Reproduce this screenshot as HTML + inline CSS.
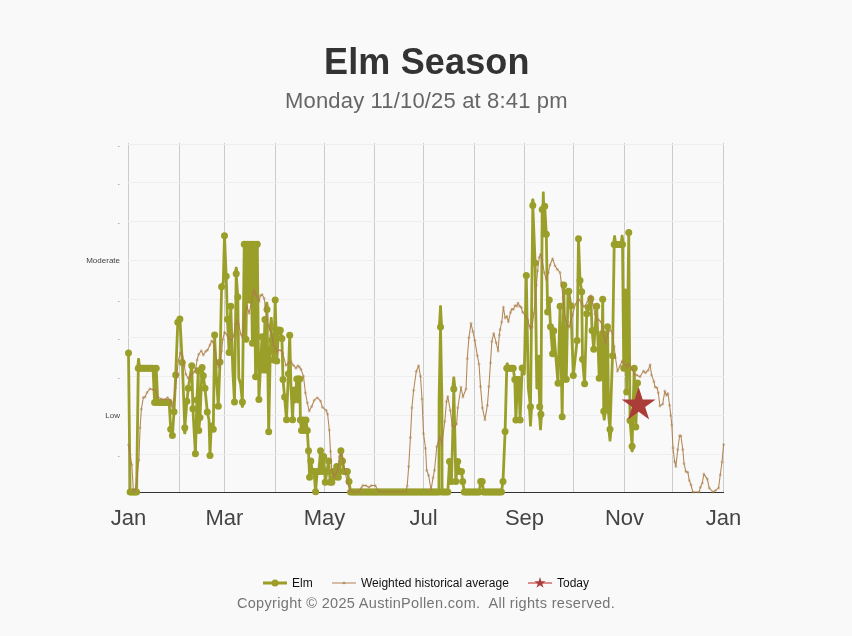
<!DOCTYPE html>
<html lang="en"><head><meta charset="utf-8"><title>Elm Season</title>
<style>
html,body{margin:0;padding:0;}
body{width:852px;height:636px;overflow:hidden;background:#f9f9f9;font-family:"Liberation Sans",sans-serif;position:relative;}
h1{position:absolute;left:0.8px;top:39.2px;width:852px;margin:0;text-align:center;font-size:36px;line-height:46px;font-weight:bold;color:#333;letter-spacing:0.15px;}
h2{position:absolute;left:0.4px;top:86.9px;width:852px;margin:0;text-align:center;font-size:22px;line-height:28px;font-weight:normal;color:#666;letter-spacing:0.16px;}
#chart{position:absolute;left:0;top:0;width:852px;height:636px;}
.xl{font-size:22px;fill:#444;text-anchor:middle;}
.yl{font-size:8px;fill:#444;text-anchor:end;}
.lg{font-size:12px;fill:#111;}
#foot{position:absolute;left:0;top:594.4px;width:852px;text-align:center;font-size:14.5px;line-height:18px;color:#757575;letter-spacing:0.33px;white-space:pre;}
</style></head><body>
<h1>Elm Season</h1>
<h2>Monday 11/10/25 at 8:41 pm</h2>
<svg id="chart" width="852" height="636" viewBox="0 0 852 636" font-family="Liberation Sans, sans-serif">

<g stroke="#cccccc" stroke-width="1" shape-rendering="crispEdges">
<line x1="128.5" x2="128.5" y1="143.0" y2="492.5"/>
<line x1="179.5" x2="179.5" y1="143.0" y2="492.5"/>
<line x1="224.5" x2="224.5" y1="143.0" y2="492.5"/>
<line x1="275.5" x2="275.5" y1="143.0" y2="492.5"/>
<line x1="324.5" x2="324.5" y1="143.0" y2="492.5"/>
<line x1="374.5" x2="374.5" y1="143.0" y2="492.5"/>
<line x1="423.5" x2="423.5" y1="143.0" y2="492.5"/>
<line x1="474.5" x2="474.5" y1="143.0" y2="492.5"/>
<line x1="524.5" x2="524.5" y1="143.0" y2="492.5"/>
<line x1="573.5" x2="573.5" y1="143.0" y2="492.5"/>
<line x1="624.5" x2="624.5" y1="143.0" y2="492.5"/>
<line x1="672.5" x2="672.5" y1="143.0" y2="492.5"/>
<line x1="723.5" x2="723.5" y1="143.0" y2="492.5"/>
</g>
<g stroke="#eeeeee" stroke-width="1" shape-rendering="crispEdges">
<line x1="128.0" x2="724.0" y1="144.5" y2="144.5"/>
<line x1="128.0" x2="724.0" y1="182.5" y2="182.5"/>
<line x1="128.0" x2="724.0" y1="221.5" y2="221.5"/>
<line x1="128.0" x2="724.0" y1="260.5" y2="260.5"/>
<line x1="128.0" x2="724.0" y1="299.5" y2="299.5"/>
<line x1="128.0" x2="724.0" y1="337.5" y2="337.5"/>
<line x1="128.0" x2="724.0" y1="376.5" y2="376.5"/>
<line x1="128.0" x2="724.0" y1="415.5" y2="415.5"/>
<line x1="128.0" x2="724.0" y1="454.5" y2="454.5"/>
</g>
<line x1="128.5" x2="723.5" y1="492.5" y2="492.5" stroke="#333" stroke-width="1" shape-rendering="crispEdges"/>
<text class="yl" x="120" y="146.5">.</text>
<text class="yl" x="120" y="184.5">.</text>
<text class="yl" x="120" y="223.5">.</text>
<text class="yl" x="120" y="262.5">Moderate</text>
<text class="yl" x="120" y="301.5">.</text>
<text class="yl" x="120" y="339.5">.</text>
<text class="yl" x="120" y="378.5">.</text>
<text class="yl" x="120" y="417.5">Low</text>
<text class="yl" x="120" y="456.5">.</text>
<text class="xl" x="128.5" y="525">Jan</text>
<text class="xl" x="224.5" y="525">Mar</text>
<text class="xl" x="324.5" y="525">May</text>
<text class="xl" x="423.5" y="525">Jul</text>
<text class="xl" x="524.5" y="525">Sep</text>
<text class="xl" x="624.5" y="525">Nov</text>
<text class="xl" x="723.5" y="525">Jan</text>
<polyline fill="none" stroke="#9a9f2a" stroke-width="2.8" stroke-linejoin="round" stroke-linecap="round" points="128.5,352.9 130.1,492 131.8,492 133.4,492 135,492 136.6,492 138.3,368.3 139.9,368.3 141.5,368.3 143.2,368.3 144.8,368.3 146.4,368.3 148.1,368.3 149.7,368.3 151.3,368.3 153,368.3 154.6,402.5 156.2,368.3 157.8,402.5 159.5,402.5 161.1,402.5 162.7,402.5 164.4,402.5 166,402.5 167.6,402.5 169.2,402.5 170.7,429.2 172.4,435.4 174,411.8 175.7,375 177.8,322.2 179.9,318.9 182.3,362.5 184.8,427.8 186.9,401.3 188.3,388.3 191.8,365.8 192.9,408.8 195.4,453.75 196.9,400 198.3,370.8 198.75,430.4 200,417.5 202.1,367.5 203.3,375.8 205,388.3 207.3,412 209,420 210,455.4 211.3,424 213.3,429.2 214.6,335 216.5,380 218.3,406.25 220,362.1 221.6,286.7 223.3,282 224.5,235.8 226.2,276.25 227.4,319.2 229.1,352.5 230.75,306.25 232.8,370 234.5,402.1 236.2,273.75 237.8,297 238.8,378 240.6,384 242.4,402.1 244.25,244.3 245.9,339.2 247.5,244.3 249.1,300 250.8,244.3 252.4,343.3 254,244.3 255.6,376.7 257.25,244.3 258.9,399.6 262,336.7 263.5,370 264.9,319.6 266,370 267,309.5 268.7,431.7 270.3,350 271.2,330 272,340 273.6,360 275.2,300.1 276.8,361 278.6,330 280.3,330.3 281.9,338.4 283,379.5 284.6,397.1 286.5,419.7 288.4,373.8 289.7,335.3 291,388 292.6,419.7 293.6,388 295,402 296.8,378.9 297.6,402 298.4,378.9 299.8,378.9 300.4,420 301.5,430.4 303,420 304.4,430.4 306,420 307.3,430.4 308.5,450.8 309.6,477.2 310.8,460.9 312.4,471.6 314,471.6 315.6,491.7 317.2,471.6 318.8,471.6 320.5,450.8 322.1,471.6 323.7,456.5 325.3,482.2 326.9,471.6 328.6,460.9 330.2,482.2 331.8,482.2 333.4,471.6 335,477 336.7,466.5 338.3,477.2 339.9,471.6 340.9,450.8 342.5,460.9 344.1,471.6 345.8,471.6 347.4,471.6 349,481.6 350.6,492 352.24,492 353.87,492 355.51,492 357.14,492 358.78,492 360.41,492 362.05,492 363.68,492 365.32,492 366.95,492 368.59,492 370.22,492 371.86,492 373.49,492 375.13,492 376.76,492 378.4,492 380.03,492 381.67,492 383.3,492 384.94,492 386.57,492 388.21,492 389.84,492 391.48,492 393.11,492 394.75,492 396.39,492 398.02,492 399.66,492 401.29,492 402.93,492 404.56,492 406.2,492 407.83,492 409.47,492 411.1,492 412.74,492 414.37,492 416.01,492 417.64,492 419.28,492 420.91,492 422.55,492 424.18,492 425.82,492 427.45,492 429.09,492 430.72,492 432.36,492 433.99,492 435.63,492 437.26,492 438.9,492 439.1,400 440.5,327.1 441.9,400 442.1,492 444,492 445.9,492 447.8,492 449.5,461.5 451.4,481.6 452.6,440 453.8,388.9 455,440 455.8,481.6 457.7,461.5 459.5,471.6 461.5,471.6 462.7,481.6 464.3,492 465.96,492 467.61,492 469.27,492 470.92,492 472.58,492 474.23,492 475.89,492 477.54,492 479.2,492 480.7,481.6 482.2,481.6 483.6,492 485.22,492 486.84,492 488.45,492 490.07,492 491.69,492 493.31,492 494.93,492 496.55,492 498.16,492 499.78,492 501.4,492 503,481.6 505.1,431.5 506.75,368.3 508.4,368.3 510,368.3 511.6,368.3 513.2,368.3 514.8,379.6 515.9,420 517.5,379.6 518.8,379.6 520.1,420 522.2,367.9 524.3,374 526.3,275.4 528.3,388 530.5,406.8 532.8,205.4 535.1,262.9 536.8,388 538.3,358.3 539.7,406.8 540.9,414.2 542.2,209.6 543.4,236 544.7,206.25 546.3,234.2 547.6,312.1 549.25,300 550.5,326.7 552.6,353.75 553.8,330.8 558,383.3 560.1,306.25 562.2,416.7 563.8,285 565.4,379.2 566.3,379.2 568,291.7 568.75,291.25 570.8,305.8 573.3,375.6 577.1,340.4 578.5,238.75 580,280.4 581.7,291.7 582.5,359.2 584.6,383.75 586.7,313.75 588.3,307.5 590.8,298.75 592.1,330.4 593.75,349.2 596.7,306.25 599.2,378.3 600.6,332 601.6,376 602.7,299.2 603.75,411.25 604.9,332 606,412 607.5,326.7 608.6,414 610,429.2 612.5,355.8 614.2,244.6 615.8,244.6 617.5,244.6 619.1,244.6 620.7,244.6 622.5,244.6 623.75,368.3 625.3,290 626.7,392.1 628.75,232.5 630,420.4 632.1,446.25 634.2,368.3 635.8,427.1 637.5,382.9"/>
<g fill="#9a9f2a">
<rect x="243.4" y="245" width="14.8" height="56"/>
<polygon stroke="#9a9f2a" stroke-width="1.2" stroke-linejoin="round" points="136.7,368.3 137.85,358.7 139.35,358.7 140.5,368.3"/>
<polygon stroke="#9a9f2a" stroke-width="1.2" stroke-linejoin="round" points="182.9,427.8 184.05,433.7 185.55,433.7 186.7,427.8"/>
<polygon stroke="#9a9f2a" stroke-width="1.2" stroke-linejoin="round" points="234.3,273.75 235.45,267.3 236.95,267.3 238.1,273.75"/>
<polygon stroke="#9a9f2a" stroke-width="1.2" stroke-linejoin="round" points="240.5,402.1 241.65,407.2 243.15,407.2 244.3,402.1"/>
<polygon stroke="#9a9f2a" stroke-width="1.2" stroke-linejoin="round" points="264.9,309.5 266.05,302.3 267.55,302.3 268.7,309.5"/>
<polygon stroke="#9a9f2a" stroke-width="1.2" stroke-linejoin="round" points="269.3,330 270.45,317.5 271.95,317.5 273.1,330"/>
<polygon stroke="#9a9f2a" stroke-width="1.2" stroke-linejoin="round" points="438.6,327.1 439.75,305.8 441.25,305.8 442.4,327.1"/>
<polygon stroke="#9a9f2a" stroke-width="1.2" stroke-linejoin="round" points="451.9,388.9 453.05,377.1 454.55,377.1 455.7,388.9"/>
<polygon stroke="#9a9f2a" stroke-width="1.2" stroke-linejoin="round" points="505.3,368.3 506.45,363.1 507.95,363.1 509.1,368.3"/>
<polygon stroke="#9a9f2a" stroke-width="1.2" stroke-linejoin="round" points="528.6,406.8 529.75,425.9 531.25,425.9 532.4,406.8"/>
<polygon stroke="#9a9f2a" stroke-width="1.2" stroke-linejoin="round" points="530.9,205.4 532.05,199.1 533.55,199.1 534.7,205.4"/>
<polygon stroke="#9a9f2a" stroke-width="1.2" stroke-linejoin="round" points="538.6,414.2 539.75,429.6 541.25,429.6 542.4,414.2"/>
<polygon stroke="#9a9f2a" stroke-width="1.2" stroke-linejoin="round" points="541.4,236 542.55,192 544.05,192 545.2,236"/>
<polygon stroke="#9a9f2a" stroke-width="1.2" stroke-linejoin="round" points="602.3,411.25 603.45,420 604.95,420 606.1,411.25"/>
<polygon stroke="#9a9f2a" stroke-width="1.2" stroke-linejoin="round" points="608.1,429.2 609.25,440.9 610.75,440.9 611.9,429.2"/>
<polygon stroke="#9a9f2a" stroke-width="1.2" stroke-linejoin="round" points="612.7,244.6 613.85,235.8 615.35,235.8 616.5,244.6"/>
<polygon stroke="#9a9f2a" stroke-width="1.2" stroke-linejoin="round" points="620.2,244.6 621.35,235.4 622.85,235.4 624,244.6"/>
<polygon stroke="#9a9f2a" stroke-width="1.2" stroke-linejoin="round" points="630.2,446.25 631.35,451.7 632.85,451.7 634,446.25"/>
<circle cx="128.5" cy="352.9" r="3.5"/>
<circle cx="130.1" cy="492" r="3.5"/>
<circle cx="131.8" cy="492" r="3.5"/>
<circle cx="133.4" cy="492" r="3.5"/>
<circle cx="135" cy="492" r="3.5"/>
<circle cx="136.6" cy="492" r="3.5"/>
<circle cx="138.3" cy="368.3" r="3.5"/>
<circle cx="139.9" cy="368.3" r="3.5"/>
<circle cx="141.5" cy="368.3" r="3.5"/>
<circle cx="143.2" cy="368.3" r="3.5"/>
<circle cx="144.8" cy="368.3" r="3.5"/>
<circle cx="146.4" cy="368.3" r="3.5"/>
<circle cx="148.1" cy="368.3" r="3.5"/>
<circle cx="149.7" cy="368.3" r="3.5"/>
<circle cx="151.3" cy="368.3" r="3.5"/>
<circle cx="153" cy="368.3" r="3.5"/>
<circle cx="154.6" cy="402.5" r="3.5"/>
<circle cx="156.2" cy="368.3" r="3.5"/>
<circle cx="157.8" cy="402.5" r="3.5"/>
<circle cx="159.5" cy="402.5" r="3.5"/>
<circle cx="161.1" cy="402.5" r="3.5"/>
<circle cx="162.7" cy="402.5" r="3.5"/>
<circle cx="164.4" cy="402.5" r="3.5"/>
<circle cx="166" cy="402.5" r="3.5"/>
<circle cx="167.6" cy="402.5" r="3.5"/>
<circle cx="169.2" cy="402.5" r="3.5"/>
<circle cx="170.7" cy="429.2" r="3.5"/>
<circle cx="172.4" cy="435.4" r="3.5"/>
<circle cx="174" cy="411.8" r="3.5"/>
<circle cx="175.7" cy="375" r="3.5"/>
<circle cx="177.8" cy="322.2" r="3.5"/>
<circle cx="179.9" cy="318.9" r="3.5"/>
<circle cx="182.3" cy="362.5" r="3.5"/>
<circle cx="184.8" cy="427.8" r="3.5"/>
<circle cx="186.9" cy="401.3" r="3.5"/>
<circle cx="188.3" cy="388.3" r="3.5"/>
<circle cx="191.8" cy="365.8" r="3.5"/>
<circle cx="192.9" cy="408.8" r="3.5"/>
<circle cx="195.4" cy="453.75" r="3.5"/>
<circle cx="196.9" cy="400" r="3.5"/>
<circle cx="198.3" cy="370.8" r="3.5"/>
<circle cx="198.75" cy="430.4" r="3.5"/>
<circle cx="200" cy="417.5" r="3.5"/>
<circle cx="202.1" cy="367.5" r="3.5"/>
<circle cx="203.3" cy="375.8" r="3.5"/>
<circle cx="205" cy="388.3" r="3.5"/>
<circle cx="207.3" cy="412" r="3.5"/>
<circle cx="210" cy="455.4" r="3.5"/>
<circle cx="213.3" cy="429.2" r="3.5"/>
<circle cx="214.6" cy="335" r="3.5"/>
<circle cx="216.5" cy="380" r="3.5"/>
<circle cx="218.3" cy="406.25" r="3.5"/>
<circle cx="220" cy="362.1" r="3.5"/>
<circle cx="221.6" cy="286.7" r="3.5"/>
<circle cx="224.5" cy="235.8" r="3.5"/>
<circle cx="226.2" cy="276.25" r="3.5"/>
<circle cx="227.4" cy="319.2" r="3.5"/>
<circle cx="229.1" cy="352.5" r="3.5"/>
<circle cx="230.75" cy="306.25" r="3.5"/>
<circle cx="234.5" cy="402.1" r="3.5"/>
<circle cx="236.2" cy="273.75" r="3.5"/>
<circle cx="237.8" cy="297" r="3.5"/>
<circle cx="242.4" cy="402.1" r="3.5"/>
<circle cx="244.25" cy="244.3" r="3.5"/>
<circle cx="245.9" cy="339.2" r="3.5"/>
<circle cx="247.5" cy="244.3" r="3.5"/>
<circle cx="249.1" cy="300" r="3.5"/>
<circle cx="250.8" cy="244.3" r="3.5"/>
<circle cx="252.4" cy="343.3" r="3.5"/>
<circle cx="254" cy="244.3" r="3.5"/>
<circle cx="255.6" cy="376.7" r="3.5"/>
<circle cx="257.25" cy="244.3" r="3.5"/>
<circle cx="258.9" cy="399.6" r="3.5"/>
<circle cx="262" cy="336.7" r="3.5"/>
<circle cx="263.5" cy="370" r="3.5"/>
<circle cx="264.9" cy="319.6" r="3.5"/>
<circle cx="266" cy="370" r="3.5"/>
<circle cx="267" cy="309.5" r="3.5"/>
<circle cx="268.7" cy="431.7" r="3.5"/>
<circle cx="270.3" cy="350" r="3.5"/>
<circle cx="272" cy="340" r="3.5"/>
<circle cx="273.6" cy="360" r="3.5"/>
<circle cx="275.2" cy="300.1" r="3.5"/>
<circle cx="276.8" cy="361" r="3.5"/>
<circle cx="278.6" cy="330" r="3.5"/>
<circle cx="280.3" cy="330.3" r="3.5"/>
<circle cx="281.9" cy="338.4" r="3.5"/>
<circle cx="283" cy="379.5" r="3.5"/>
<circle cx="284.6" cy="397.1" r="3.5"/>
<circle cx="286.5" cy="419.7" r="3.5"/>
<circle cx="288.4" cy="373.8" r="3.5"/>
<circle cx="289.7" cy="335.3" r="3.5"/>
<circle cx="292.6" cy="419.7" r="3.5"/>
<circle cx="296.8" cy="378.9" r="3.5"/>
<circle cx="298.4" cy="378.9" r="3.5"/>
<circle cx="299.8" cy="378.9" r="3.5"/>
<circle cx="300.4" cy="420" r="3.5"/>
<circle cx="301.5" cy="430.4" r="3.5"/>
<circle cx="303" cy="420" r="3.5"/>
<circle cx="304.4" cy="430.4" r="3.5"/>
<circle cx="306" cy="420" r="3.5"/>
<circle cx="307.3" cy="430.4" r="3.5"/>
<circle cx="308.5" cy="450.8" r="3.5"/>
<circle cx="309.6" cy="477.2" r="3.5"/>
<circle cx="310.8" cy="460.9" r="3.5"/>
<circle cx="312.4" cy="471.6" r="3.5"/>
<circle cx="314" cy="471.6" r="3.5"/>
<circle cx="315.6" cy="491.7" r="3.5"/>
<circle cx="317.2" cy="471.6" r="3.5"/>
<circle cx="318.8" cy="471.6" r="3.5"/>
<circle cx="320.5" cy="450.8" r="3.5"/>
<circle cx="322.1" cy="471.6" r="3.5"/>
<circle cx="323.7" cy="456.5" r="3.5"/>
<circle cx="325.3" cy="482.2" r="3.5"/>
<circle cx="326.9" cy="471.6" r="3.5"/>
<circle cx="328.6" cy="460.9" r="3.5"/>
<circle cx="330.2" cy="482.2" r="3.5"/>
<circle cx="331.8" cy="482.2" r="3.5"/>
<circle cx="333.4" cy="471.6" r="3.5"/>
<circle cx="335" cy="477" r="3.5"/>
<circle cx="336.7" cy="466.5" r="3.5"/>
<circle cx="338.3" cy="477.2" r="3.5"/>
<circle cx="339.9" cy="471.6" r="3.5"/>
<circle cx="340.9" cy="450.8" r="3.5"/>
<circle cx="342.5" cy="460.9" r="3.5"/>
<circle cx="344.1" cy="471.6" r="3.5"/>
<circle cx="345.8" cy="471.6" r="3.5"/>
<circle cx="347.4" cy="471.6" r="3.5"/>
<circle cx="349" cy="481.6" r="3.5"/>
<circle cx="350.6" cy="492" r="3.5"/>
<circle cx="352.24" cy="492" r="3.5"/>
<circle cx="353.87" cy="492" r="3.5"/>
<circle cx="355.51" cy="492" r="3.5"/>
<circle cx="357.14" cy="492" r="3.5"/>
<circle cx="358.78" cy="492" r="3.5"/>
<circle cx="360.41" cy="492" r="3.5"/>
<circle cx="362.05" cy="492" r="3.5"/>
<circle cx="363.68" cy="492" r="3.5"/>
<circle cx="365.32" cy="492" r="3.5"/>
<circle cx="366.95" cy="492" r="3.5"/>
<circle cx="368.59" cy="492" r="3.5"/>
<circle cx="370.22" cy="492" r="3.5"/>
<circle cx="371.86" cy="492" r="3.5"/>
<circle cx="373.49" cy="492" r="3.5"/>
<circle cx="375.13" cy="492" r="3.5"/>
<circle cx="376.76" cy="492" r="3.5"/>
<circle cx="378.4" cy="492" r="3.5"/>
<circle cx="380.03" cy="492" r="3.5"/>
<circle cx="381.67" cy="492" r="3.5"/>
<circle cx="383.3" cy="492" r="3.5"/>
<circle cx="384.94" cy="492" r="3.5"/>
<circle cx="386.57" cy="492" r="3.5"/>
<circle cx="388.21" cy="492" r="3.5"/>
<circle cx="389.84" cy="492" r="3.5"/>
<circle cx="391.48" cy="492" r="3.5"/>
<circle cx="393.11" cy="492" r="3.5"/>
<circle cx="394.75" cy="492" r="3.5"/>
<circle cx="396.39" cy="492" r="3.5"/>
<circle cx="398.02" cy="492" r="3.5"/>
<circle cx="399.66" cy="492" r="3.5"/>
<circle cx="401.29" cy="492" r="3.5"/>
<circle cx="402.93" cy="492" r="3.5"/>
<circle cx="404.56" cy="492" r="3.5"/>
<circle cx="406.2" cy="492" r="3.5"/>
<circle cx="407.83" cy="492" r="3.5"/>
<circle cx="409.47" cy="492" r="3.5"/>
<circle cx="411.1" cy="492" r="3.5"/>
<circle cx="412.74" cy="492" r="3.5"/>
<circle cx="414.37" cy="492" r="3.5"/>
<circle cx="416.01" cy="492" r="3.5"/>
<circle cx="417.64" cy="492" r="3.5"/>
<circle cx="419.28" cy="492" r="3.5"/>
<circle cx="420.91" cy="492" r="3.5"/>
<circle cx="422.55" cy="492" r="3.5"/>
<circle cx="424.18" cy="492" r="3.5"/>
<circle cx="425.82" cy="492" r="3.5"/>
<circle cx="427.45" cy="492" r="3.5"/>
<circle cx="429.09" cy="492" r="3.5"/>
<circle cx="430.72" cy="492" r="3.5"/>
<circle cx="432.36" cy="492" r="3.5"/>
<circle cx="433.99" cy="492" r="3.5"/>
<circle cx="435.63" cy="492" r="3.5"/>
<circle cx="437.26" cy="492" r="3.5"/>
<circle cx="438.9" cy="492" r="3.5"/>
<circle cx="440.5" cy="327.1" r="3.5"/>
<circle cx="442.1" cy="492" r="3.5"/>
<circle cx="444" cy="492" r="3.5"/>
<circle cx="445.9" cy="492" r="3.5"/>
<circle cx="447.8" cy="492" r="3.5"/>
<circle cx="449.5" cy="461.5" r="3.5"/>
<circle cx="451.4" cy="481.6" r="3.5"/>
<circle cx="453.8" cy="388.9" r="3.5"/>
<circle cx="455.8" cy="481.6" r="3.5"/>
<circle cx="457.7" cy="461.5" r="3.5"/>
<circle cx="459.5" cy="471.6" r="3.5"/>
<circle cx="461.5" cy="471.6" r="3.5"/>
<circle cx="462.7" cy="481.6" r="3.5"/>
<circle cx="464.3" cy="492" r="3.5"/>
<circle cx="465.96" cy="492" r="3.5"/>
<circle cx="467.61" cy="492" r="3.5"/>
<circle cx="469.27" cy="492" r="3.5"/>
<circle cx="470.92" cy="492" r="3.5"/>
<circle cx="472.58" cy="492" r="3.5"/>
<circle cx="474.23" cy="492" r="3.5"/>
<circle cx="475.89" cy="492" r="3.5"/>
<circle cx="477.54" cy="492" r="3.5"/>
<circle cx="479.2" cy="492" r="3.5"/>
<circle cx="480.7" cy="481.6" r="3.5"/>
<circle cx="482.2" cy="481.6" r="3.5"/>
<circle cx="483.6" cy="492" r="3.5"/>
<circle cx="485.22" cy="492" r="3.5"/>
<circle cx="486.84" cy="492" r="3.5"/>
<circle cx="488.45" cy="492" r="3.5"/>
<circle cx="490.07" cy="492" r="3.5"/>
<circle cx="491.69" cy="492" r="3.5"/>
<circle cx="493.31" cy="492" r="3.5"/>
<circle cx="494.93" cy="492" r="3.5"/>
<circle cx="496.55" cy="492" r="3.5"/>
<circle cx="498.16" cy="492" r="3.5"/>
<circle cx="499.78" cy="492" r="3.5"/>
<circle cx="501.4" cy="492" r="3.5"/>
<circle cx="503" cy="481.6" r="3.5"/>
<circle cx="505.1" cy="431.5" r="3.5"/>
<circle cx="506.75" cy="368.3" r="3.5"/>
<circle cx="508.4" cy="368.3" r="3.5"/>
<circle cx="510" cy="368.3" r="3.5"/>
<circle cx="511.6" cy="368.3" r="3.5"/>
<circle cx="513.2" cy="368.3" r="3.5"/>
<circle cx="514.8" cy="379.6" r="3.5"/>
<circle cx="515.9" cy="420" r="3.5"/>
<circle cx="517.5" cy="379.6" r="3.5"/>
<circle cx="518.8" cy="379.6" r="3.5"/>
<circle cx="520.1" cy="420" r="3.5"/>
<circle cx="522.2" cy="367.9" r="3.5"/>
<circle cx="526.3" cy="275.4" r="3.5"/>
<circle cx="530.5" cy="406.8" r="3.5"/>
<circle cx="532.8" cy="205.4" r="3.5"/>
<circle cx="535.1" cy="262.9" r="3.5"/>
<circle cx="538.3" cy="358.3" r="3.5"/>
<circle cx="539.7" cy="406.8" r="3.5"/>
<circle cx="540.9" cy="414.2" r="3.5"/>
<circle cx="542.2" cy="209.6" r="3.5"/>
<circle cx="544.7" cy="206.25" r="3.5"/>
<circle cx="546.3" cy="234.2" r="3.5"/>
<circle cx="547.6" cy="312.1" r="3.5"/>
<circle cx="549.25" cy="300" r="3.5"/>
<circle cx="550.5" cy="326.7" r="3.5"/>
<circle cx="552.6" cy="353.75" r="3.5"/>
<circle cx="553.8" cy="330.8" r="3.5"/>
<circle cx="558" cy="383.3" r="3.5"/>
<circle cx="560.1" cy="306.25" r="3.5"/>
<circle cx="562.2" cy="416.7" r="3.5"/>
<circle cx="563.8" cy="285" r="3.5"/>
<circle cx="565.4" cy="379.2" r="3.5"/>
<circle cx="566.3" cy="379.2" r="3.5"/>
<circle cx="568" cy="291.7" r="3.5"/>
<circle cx="568.75" cy="291.25" r="3.5"/>
<circle cx="570.8" cy="305.8" r="3.5"/>
<circle cx="573.3" cy="375.6" r="3.5"/>
<circle cx="577.1" cy="340.4" r="3.5"/>
<circle cx="578.5" cy="238.75" r="3.5"/>
<circle cx="580" cy="280.4" r="3.5"/>
<circle cx="581.7" cy="291.7" r="3.5"/>
<circle cx="582.5" cy="359.2" r="3.5"/>
<circle cx="584.6" cy="383.75" r="3.5"/>
<circle cx="586.7" cy="313.75" r="3.5"/>
<circle cx="588.3" cy="307.5" r="3.5"/>
<circle cx="590.8" cy="298.75" r="3.5"/>
<circle cx="592.1" cy="330.4" r="3.5"/>
<circle cx="593.75" cy="349.2" r="3.5"/>
<circle cx="596.7" cy="306.25" r="3.5"/>
<circle cx="599.2" cy="378.3" r="3.5"/>
<circle cx="602.7" cy="299.2" r="3.5"/>
<circle cx="603.75" cy="411.25" r="3.5"/>
<circle cx="607.5" cy="326.7" r="3.5"/>
<circle cx="610" cy="429.2" r="3.5"/>
<circle cx="612.5" cy="355.8" r="3.5"/>
<circle cx="614.2" cy="244.6" r="3.5"/>
<circle cx="615.8" cy="244.6" r="3.5"/>
<circle cx="617.5" cy="244.6" r="3.5"/>
<circle cx="619.1" cy="244.6" r="3.5"/>
<circle cx="620.7" cy="244.6" r="3.5"/>
<circle cx="622.5" cy="244.6" r="3.5"/>
<circle cx="623.75" cy="368.3" r="3.5"/>
<circle cx="626.7" cy="392.1" r="3.5"/>
<circle cx="628.75" cy="232.5" r="3.5"/>
<circle cx="630" cy="420.4" r="3.5"/>
<circle cx="632.1" cy="446.25" r="3.5"/>
<circle cx="634.2" cy="368.3" r="3.5"/>
<circle cx="635.8" cy="427.1" r="3.5"/>
<circle cx="637.5" cy="382.9" r="3.5"/>
</g>
<polyline fill="none" stroke="#aa7a42" stroke-width="1.05" stroke-opacity="0.9" stroke-linejoin="round" stroke-linecap="round" points="128.5,444.8 130.1,455 131.8,464.7 133.4,490.5 135,491 136.7,480 138.9,460 140.1,427.8 141.4,408.9 143.3,397.6 145,397 147,392.6 149.9,388.8 152.9,389.4 155.8,390.7 157.7,397 161.5,398.9 164.6,399.5 167.5,397.6 170.3,400.1 172.2,407.7 174.1,398.9 175.5,388 177.1,373.3 178.3,360.8 180.4,352.5 182.5,356.7 184.2,365.8 185.8,374.2 188.3,378.3 190.8,375 194.2,372.1 195.8,368.3 197.1,360 198.75,354.2 201.25,350.8 203.3,355 205.8,351.25 207.5,350 210,345 211.7,340.8 213.3,342.5 215.4,352.5 217.1,363.3 218.75,367.3 220.5,360 221.7,350.8 222.8,339.2 224.5,332.2 227.2,335 229.1,338.3 231.4,340.4 233.7,335.8 235.3,324.2 237,319.8 238.6,324 240.75,334.2 242.4,337.1 243.7,328.3 244.5,315.8 247,305.8 249.1,313.3 251.2,303.3 252.8,294.2 254.1,289.6 255.3,294.2 257.4,296.7 259.1,301.25 260.3,295.8 262,294.5 264.1,298.3 265.3,305.8 266.6,317 268.5,326 270.3,330.8 272,335 273.25,345 274.9,346.7 276.6,352.5 278.5,350 281.2,350.5 282.8,353.3 285.9,365.3 288.5,363 291,361.5 293.4,365.2 296,368.2 297.8,365.7 299.5,367 301,369.4 303.5,376.3 305.4,392.7 307.3,402.75 309.2,410.9 311.7,406.5 314.2,400.2 317.3,397.7 320.5,400.9 322.4,407.2 326.1,410.3 327.6,414 329.3,430 330.5,451.4 331.8,470.3 334.3,477.2 337.4,470.3 339.3,456.5 341.2,453.3 343.1,460.9 345,471.6 347.5,482.9 350,490.4 352.5,492 358.8,492 361.3,487.9 362.8,485.4 365.7,485.4 368.9,487.3 371.4,485.4 375.2,485.4 379,491.7 406,491.7 407.2,486 408.7,466.5 410.4,437.6 411.9,407.8 413.6,390.2 416.3,371.3 418.6,365.7 420.5,376.3 422,399 423.5,433.4 425.5,448.3 426.7,470.3 428.6,475.3 431.1,489.8 433,477.8 434.5,470.3 436.8,446.4 439.9,436.5 441.8,445 444.8,421.3 446.5,401.5 447.8,396.5 450.3,410.3 452.2,425.4 454,427.9 456.6,424 457.8,407.8 461,387 462.9,397 466,389 467.3,358.5 468.9,337.8 471,323.3 472.9,331.5 474.8,340.3 477.3,355.4 479,364 480.5,386.4 482.4,407.8 484.9,419.7 487.4,405.3 488.9,386.4 490.5,362.7 491.8,341.6 493.7,333.4 496.2,342.8 498.1,351 499.3,335 500.1,329.5 501.75,322 503.4,307 505.1,318 506.75,316.25 508.4,321.7 510.5,312.5 511.75,309.2 513.4,309.2 515.1,305.4 516.75,306.25 518,302.9 519.8,306.25 521.3,307.5 522.6,312.1 525.5,315.8 528,320 529.25,325.8 530.5,328.75 532.2,326.7 533.8,313.3 535.5,297.5 536.4,285 537.6,270.8 539.25,257.5 540.5,254.2 542.2,260 544.25,272.5 546.3,279.6 548.4,272.5 550,265 552.6,258.75 555,265.8 557.2,269.2 560,272.5 561.3,282.5 563,297.5 564.7,316 566.7,324.5 569.2,327 570.5,322 572.5,315 575.4,304.2 578.75,299.2 581.7,303.3 584.2,306.7 587.5,301.7 590.8,295.8 592.9,304.2 595,314.2 596.7,320.4 598.3,319.6 600.8,321.7 602.5,327.5 603.3,333.3 605.4,343.3 607.9,333.3 610.4,330 612.5,333.3 614.2,346.7 615.4,357.5 617.5,371.2 620,366 622.1,361 624.2,364.2 626.7,366.7 628.75,363.6 631.25,367.9 633.3,370 634.2,374.6 636.7,375 640,376.8 643.5,371 645.5,372.8 648.2,370.2 650.1,364.7 651.6,375.1 653.9,381.4 655.1,387.1 657,387.7 658.3,392.75 659.9,406 662.7,404.1 664.8,391 666.4,395.3 667.9,393.4 669.6,405.3 670.8,415.4 671.8,425 673,447.7 674.6,461.5 675.9,466.5 677.75,449.5 679.6,435.7 680.9,435.7 682.8,449.5 684,463.4 685.9,471.6 687.8,472.2 689.3,480.4 691,484.75 692.8,492 699.1,492 700.4,487.3 702.3,482.9 703.9,474.1 707.3,479.1 709.2,487.9 713,492 715.5,490.4 718.6,487.9 720.25,474.7 722,462.1 723.6,444.5"/>
<g fill="#b08450" fill-opacity="0.45">
<circle cx="128.5" cy="444.8" r="1.5"/>
<circle cx="130.1" cy="455" r="1.5"/>
<circle cx="131.8" cy="464.7" r="1.5"/>
<circle cx="133.4" cy="490.5" r="1.5"/>
<circle cx="135" cy="491" r="1.5"/>
<circle cx="136.7" cy="480" r="1.5"/>
<circle cx="138.9" cy="460" r="1.5"/>
<circle cx="140.1" cy="427.8" r="1.5"/>
<circle cx="141.4" cy="408.9" r="1.5"/>
<circle cx="143.3" cy="397.6" r="1.5"/>
<circle cx="145" cy="397" r="1.5"/>
<circle cx="147" cy="392.6" r="1.5"/>
<circle cx="149.9" cy="388.8" r="1.5"/>
<circle cx="152.9" cy="389.4" r="1.5"/>
<circle cx="155.8" cy="390.7" r="1.5"/>
<circle cx="157.7" cy="397" r="1.5"/>
<circle cx="161.5" cy="398.9" r="1.5"/>
<circle cx="164.6" cy="399.5" r="1.5"/>
<circle cx="167.5" cy="397.6" r="1.5"/>
<circle cx="170.3" cy="400.1" r="1.5"/>
<circle cx="172.2" cy="407.7" r="1.5"/>
<circle cx="174.1" cy="398.9" r="1.5"/>
<circle cx="175.5" cy="388" r="1.5"/>
<circle cx="177.1" cy="373.3" r="1.5"/>
<circle cx="178.3" cy="360.8" r="1.5"/>
<circle cx="180.4" cy="352.5" r="1.5"/>
<circle cx="182.5" cy="356.7" r="1.5"/>
<circle cx="184.2" cy="365.8" r="1.5"/>
<circle cx="185.8" cy="374.2" r="1.5"/>
<circle cx="188.3" cy="378.3" r="1.5"/>
<circle cx="190.8" cy="375" r="1.5"/>
<circle cx="194.2" cy="372.1" r="1.5"/>
<circle cx="195.8" cy="368.3" r="1.5"/>
<circle cx="197.1" cy="360" r="1.5"/>
<circle cx="198.75" cy="354.2" r="1.5"/>
<circle cx="201.25" cy="350.8" r="1.5"/>
<circle cx="203.3" cy="355" r="1.5"/>
<circle cx="205.8" cy="351.25" r="1.5"/>
<circle cx="207.5" cy="350" r="1.5"/>
<circle cx="210" cy="345" r="1.5"/>
<circle cx="211.7" cy="340.8" r="1.5"/>
<circle cx="213.3" cy="342.5" r="1.5"/>
<circle cx="215.4" cy="352.5" r="1.5"/>
<circle cx="217.1" cy="363.3" r="1.5"/>
<circle cx="218.75" cy="367.3" r="1.5"/>
<circle cx="220.5" cy="360" r="1.5"/>
<circle cx="221.7" cy="350.8" r="1.5"/>
<circle cx="222.8" cy="339.2" r="1.5"/>
<circle cx="224.5" cy="332.2" r="1.5"/>
<circle cx="227.2" cy="335" r="1.5"/>
<circle cx="229.1" cy="338.3" r="1.5"/>
<circle cx="231.4" cy="340.4" r="1.5"/>
<circle cx="233.7" cy="335.8" r="1.5"/>
<circle cx="235.3" cy="324.2" r="1.5"/>
<circle cx="237" cy="319.8" r="1.5"/>
<circle cx="238.6" cy="324" r="1.5"/>
<circle cx="240.75" cy="334.2" r="1.5"/>
<circle cx="242.4" cy="337.1" r="1.5"/>
<circle cx="243.7" cy="328.3" r="1.5"/>
<circle cx="244.5" cy="315.8" r="1.5"/>
<circle cx="247" cy="305.8" r="1.5"/>
<circle cx="249.1" cy="313.3" r="1.5"/>
<circle cx="251.2" cy="303.3" r="1.5"/>
<circle cx="252.8" cy="294.2" r="1.5"/>
<circle cx="254.1" cy="289.6" r="1.5"/>
<circle cx="255.3" cy="294.2" r="1.5"/>
<circle cx="257.4" cy="296.7" r="1.5"/>
<circle cx="259.1" cy="301.25" r="1.5"/>
<circle cx="260.3" cy="295.8" r="1.5"/>
<circle cx="262" cy="294.5" r="1.5"/>
<circle cx="264.1" cy="298.3" r="1.5"/>
<circle cx="265.3" cy="305.8" r="1.5"/>
<circle cx="266.6" cy="317" r="1.5"/>
<circle cx="268.5" cy="326" r="1.5"/>
<circle cx="270.3" cy="330.8" r="1.5"/>
<circle cx="272" cy="335" r="1.5"/>
<circle cx="273.25" cy="345" r="1.5"/>
<circle cx="274.9" cy="346.7" r="1.5"/>
<circle cx="276.6" cy="352.5" r="1.5"/>
<circle cx="278.5" cy="350" r="1.5"/>
<circle cx="281.2" cy="350.5" r="1.5"/>
<circle cx="282.8" cy="353.3" r="1.5"/>
<circle cx="285.9" cy="365.3" r="1.5"/>
<circle cx="288.5" cy="363" r="1.5"/>
<circle cx="291" cy="361.5" r="1.5"/>
<circle cx="293.4" cy="365.2" r="1.5"/>
<circle cx="296" cy="368.2" r="1.5"/>
<circle cx="297.8" cy="365.7" r="1.5"/>
<circle cx="299.5" cy="367" r="1.5"/>
<circle cx="301" cy="369.4" r="1.5"/>
<circle cx="303.5" cy="376.3" r="1.5"/>
<circle cx="305.4" cy="392.7" r="1.5"/>
<circle cx="307.3" cy="402.75" r="1.5"/>
<circle cx="309.2" cy="410.9" r="1.5"/>
<circle cx="311.7" cy="406.5" r="1.5"/>
<circle cx="314.2" cy="400.2" r="1.5"/>
<circle cx="317.3" cy="397.7" r="1.5"/>
<circle cx="320.5" cy="400.9" r="1.5"/>
<circle cx="322.4" cy="407.2" r="1.5"/>
<circle cx="326.1" cy="410.3" r="1.5"/>
<circle cx="327.6" cy="414" r="1.5"/>
<circle cx="329.3" cy="430" r="1.5"/>
<circle cx="330.5" cy="451.4" r="1.5"/>
<circle cx="331.8" cy="470.3" r="1.5"/>
<circle cx="334.3" cy="477.2" r="1.5"/>
<circle cx="337.4" cy="470.3" r="1.5"/>
<circle cx="339.3" cy="456.5" r="1.5"/>
<circle cx="341.2" cy="453.3" r="1.5"/>
<circle cx="343.1" cy="460.9" r="1.5"/>
<circle cx="345" cy="471.6" r="1.5"/>
<circle cx="347.5" cy="482.9" r="1.5"/>
<circle cx="350" cy="490.4" r="1.5"/>
<circle cx="352.5" cy="492" r="1.5"/>
<circle cx="358.8" cy="492" r="1.5"/>
<circle cx="361.3" cy="487.9" r="1.5"/>
<circle cx="362.8" cy="485.4" r="1.5"/>
<circle cx="365.7" cy="485.4" r="1.5"/>
<circle cx="368.9" cy="487.3" r="1.5"/>
<circle cx="371.4" cy="485.4" r="1.5"/>
<circle cx="375.2" cy="485.4" r="1.5"/>
<circle cx="379" cy="491.7" r="1.5"/>
<circle cx="406" cy="491.7" r="1.5"/>
<circle cx="407.2" cy="486" r="1.5"/>
<circle cx="408.7" cy="466.5" r="1.5"/>
<circle cx="410.4" cy="437.6" r="1.5"/>
<circle cx="411.9" cy="407.8" r="1.5"/>
<circle cx="413.6" cy="390.2" r="1.5"/>
<circle cx="416.3" cy="371.3" r="1.5"/>
<circle cx="418.6" cy="365.7" r="1.5"/>
<circle cx="420.5" cy="376.3" r="1.5"/>
<circle cx="422" cy="399" r="1.5"/>
<circle cx="423.5" cy="433.4" r="1.5"/>
<circle cx="425.5" cy="448.3" r="1.5"/>
<circle cx="426.7" cy="470.3" r="1.5"/>
<circle cx="428.6" cy="475.3" r="1.5"/>
<circle cx="431.1" cy="489.8" r="1.5"/>
<circle cx="433" cy="477.8" r="1.5"/>
<circle cx="434.5" cy="470.3" r="1.5"/>
<circle cx="436.8" cy="446.4" r="1.5"/>
<circle cx="439.9" cy="436.5" r="1.5"/>
<circle cx="441.8" cy="445" r="1.5"/>
<circle cx="444.8" cy="421.3" r="1.5"/>
<circle cx="446.5" cy="401.5" r="1.5"/>
<circle cx="447.8" cy="396.5" r="1.5"/>
<circle cx="450.3" cy="410.3" r="1.5"/>
<circle cx="452.2" cy="425.4" r="1.5"/>
<circle cx="454" cy="427.9" r="1.5"/>
<circle cx="456.6" cy="424" r="1.5"/>
<circle cx="457.8" cy="407.8" r="1.5"/>
<circle cx="461" cy="387" r="1.5"/>
<circle cx="462.9" cy="397" r="1.5"/>
<circle cx="466" cy="389" r="1.5"/>
<circle cx="467.3" cy="358.5" r="1.5"/>
<circle cx="468.9" cy="337.8" r="1.5"/>
<circle cx="471" cy="323.3" r="1.5"/>
<circle cx="472.9" cy="331.5" r="1.5"/>
<circle cx="474.8" cy="340.3" r="1.5"/>
<circle cx="477.3" cy="355.4" r="1.5"/>
<circle cx="479" cy="364" r="1.5"/>
<circle cx="480.5" cy="386.4" r="1.5"/>
<circle cx="482.4" cy="407.8" r="1.5"/>
<circle cx="484.9" cy="419.7" r="1.5"/>
<circle cx="487.4" cy="405.3" r="1.5"/>
<circle cx="488.9" cy="386.4" r="1.5"/>
<circle cx="490.5" cy="362.7" r="1.5"/>
<circle cx="491.8" cy="341.6" r="1.5"/>
<circle cx="493.7" cy="333.4" r="1.5"/>
<circle cx="496.2" cy="342.8" r="1.5"/>
<circle cx="498.1" cy="351" r="1.5"/>
<circle cx="499.3" cy="335" r="1.5"/>
<circle cx="500.1" cy="329.5" r="1.5"/>
<circle cx="501.75" cy="322" r="1.5"/>
<circle cx="503.4" cy="307" r="1.5"/>
<circle cx="505.1" cy="318" r="1.5"/>
<circle cx="506.75" cy="316.25" r="1.5"/>
<circle cx="508.4" cy="321.7" r="1.5"/>
<circle cx="510.5" cy="312.5" r="1.5"/>
<circle cx="511.75" cy="309.2" r="1.5"/>
<circle cx="513.4" cy="309.2" r="1.5"/>
<circle cx="515.1" cy="305.4" r="1.5"/>
<circle cx="516.75" cy="306.25" r="1.5"/>
<circle cx="518" cy="302.9" r="1.5"/>
<circle cx="519.8" cy="306.25" r="1.5"/>
<circle cx="521.3" cy="307.5" r="1.5"/>
<circle cx="522.6" cy="312.1" r="1.5"/>
<circle cx="525.5" cy="315.8" r="1.5"/>
<circle cx="528" cy="320" r="1.5"/>
<circle cx="529.25" cy="325.8" r="1.5"/>
<circle cx="530.5" cy="328.75" r="1.5"/>
<circle cx="532.2" cy="326.7" r="1.5"/>
<circle cx="533.8" cy="313.3" r="1.5"/>
<circle cx="535.5" cy="297.5" r="1.5"/>
<circle cx="536.4" cy="285" r="1.5"/>
<circle cx="537.6" cy="270.8" r="1.5"/>
<circle cx="539.25" cy="257.5" r="1.5"/>
<circle cx="540.5" cy="254.2" r="1.5"/>
<circle cx="542.2" cy="260" r="1.5"/>
<circle cx="544.25" cy="272.5" r="1.5"/>
<circle cx="546.3" cy="279.6" r="1.5"/>
<circle cx="548.4" cy="272.5" r="1.5"/>
<circle cx="550" cy="265" r="1.5"/>
<circle cx="552.6" cy="258.75" r="1.5"/>
<circle cx="555" cy="265.8" r="1.5"/>
<circle cx="557.2" cy="269.2" r="1.5"/>
<circle cx="560" cy="272.5" r="1.5"/>
<circle cx="561.3" cy="282.5" r="1.5"/>
<circle cx="563" cy="297.5" r="1.5"/>
<circle cx="564.7" cy="316" r="1.5"/>
<circle cx="566.7" cy="324.5" r="1.5"/>
<circle cx="569.2" cy="327" r="1.5"/>
<circle cx="570.5" cy="322" r="1.5"/>
<circle cx="572.5" cy="315" r="1.5"/>
<circle cx="575.4" cy="304.2" r="1.5"/>
<circle cx="578.75" cy="299.2" r="1.5"/>
<circle cx="581.7" cy="303.3" r="1.5"/>
<circle cx="584.2" cy="306.7" r="1.5"/>
<circle cx="587.5" cy="301.7" r="1.5"/>
<circle cx="590.8" cy="295.8" r="1.5"/>
<circle cx="592.9" cy="304.2" r="1.5"/>
<circle cx="595" cy="314.2" r="1.5"/>
<circle cx="596.7" cy="320.4" r="1.5"/>
<circle cx="598.3" cy="319.6" r="1.5"/>
<circle cx="600.8" cy="321.7" r="1.5"/>
<circle cx="602.5" cy="327.5" r="1.5"/>
<circle cx="603.3" cy="333.3" r="1.5"/>
<circle cx="605.4" cy="343.3" r="1.5"/>
<circle cx="607.9" cy="333.3" r="1.5"/>
<circle cx="610.4" cy="330" r="1.5"/>
<circle cx="612.5" cy="333.3" r="1.5"/>
<circle cx="614.2" cy="346.7" r="1.5"/>
<circle cx="615.4" cy="357.5" r="1.5"/>
<circle cx="617.5" cy="371.2" r="1.5"/>
<circle cx="620" cy="366" r="1.5"/>
<circle cx="622.1" cy="361" r="1.5"/>
<circle cx="624.2" cy="364.2" r="1.5"/>
<circle cx="626.7" cy="366.7" r="1.5"/>
<circle cx="628.75" cy="363.6" r="1.5"/>
<circle cx="631.25" cy="367.9" r="1.5"/>
<circle cx="633.3" cy="370" r="1.5"/>
<circle cx="634.2" cy="374.6" r="1.5"/>
<circle cx="636.7" cy="375" r="1.5"/>
<circle cx="640" cy="376.8" r="1.5"/>
<circle cx="643.5" cy="371" r="1.5"/>
<circle cx="645.5" cy="372.8" r="1.5"/>
<circle cx="648.2" cy="370.2" r="1.5"/>
<circle cx="650.1" cy="364.7" r="1.5"/>
<circle cx="651.6" cy="375.1" r="1.5"/>
<circle cx="653.9" cy="381.4" r="1.5"/>
<circle cx="655.1" cy="387.1" r="1.5"/>
<circle cx="657" cy="387.7" r="1.5"/>
<circle cx="658.3" cy="392.75" r="1.5"/>
<circle cx="659.9" cy="406" r="1.5"/>
<circle cx="662.7" cy="404.1" r="1.5"/>
<circle cx="664.8" cy="391" r="1.5"/>
<circle cx="666.4" cy="395.3" r="1.5"/>
<circle cx="667.9" cy="393.4" r="1.5"/>
<circle cx="669.6" cy="405.3" r="1.5"/>
<circle cx="670.8" cy="415.4" r="1.5"/>
<circle cx="671.8" cy="425" r="1.5"/>
<circle cx="673" cy="447.7" r="1.5"/>
<circle cx="674.6" cy="461.5" r="1.5"/>
<circle cx="675.9" cy="466.5" r="1.5"/>
<circle cx="677.75" cy="449.5" r="1.5"/>
<circle cx="679.6" cy="435.7" r="1.5"/>
<circle cx="680.9" cy="435.7" r="1.5"/>
<circle cx="682.8" cy="449.5" r="1.5"/>
<circle cx="684" cy="463.4" r="1.5"/>
<circle cx="685.9" cy="471.6" r="1.5"/>
<circle cx="687.8" cy="472.2" r="1.5"/>
<circle cx="689.3" cy="480.4" r="1.5"/>
<circle cx="691" cy="484.75" r="1.5"/>
<circle cx="692.8" cy="492" r="1.5"/>
<circle cx="699.1" cy="492" r="1.5"/>
<circle cx="700.4" cy="487.3" r="1.5"/>
<circle cx="702.3" cy="482.9" r="1.5"/>
<circle cx="703.9" cy="474.1" r="1.5"/>
<circle cx="707.3" cy="479.1" r="1.5"/>
<circle cx="709.2" cy="487.9" r="1.5"/>
<circle cx="713" cy="492" r="1.5"/>
<circle cx="715.5" cy="490.4" r="1.5"/>
<circle cx="718.6" cy="487.9" r="1.5"/>
<circle cx="720.25" cy="474.7" r="1.5"/>
<circle cx="722" cy="462.1" r="1.5"/>
<circle cx="723.6" cy="444.5" r="1.5"/>
</g>
<polygon fill="#ab3d38" points="638.65,387.10 642.68,399.46 655.67,399.47 645.16,407.12 649.17,419.48 638.65,411.85 628.13,419.48 632.14,407.12 621.63,399.47 634.62,399.46"/>
<line x1="263" x2="287" y1="583" y2="583" stroke="#9c9c27" stroke-width="3"/><circle cx="275" cy="583" r="3.5" fill="#9c9c27"/>
<text class="lg" x="292" y="587">Elm</text>
<line x1="332" x2="356" y1="583" y2="583" stroke="#c8aa88" stroke-width="1.5"/><circle cx="344" cy="583" r="1.3" fill="#b08a60"/>
<text class="lg" x="361" y="587">Weighted historical average</text>
<line x1="528" x2="552" y1="583" y2="583" stroke="#d06a66" stroke-width="1.5"/>
<polygon fill="#ab3d38" points="540.00,577.00 541.35,581.14 545.71,581.15 542.19,583.71 543.53,587.85 540.00,585.30 536.47,587.85 537.81,583.71 534.29,581.15 538.65,581.14"/>
<text class="lg" x="557" y="587">Today</text>
</svg>
<div id="foot">Copyright © 2025 AustinPollen.com.  All rights reserved.</div>
</body></html>
